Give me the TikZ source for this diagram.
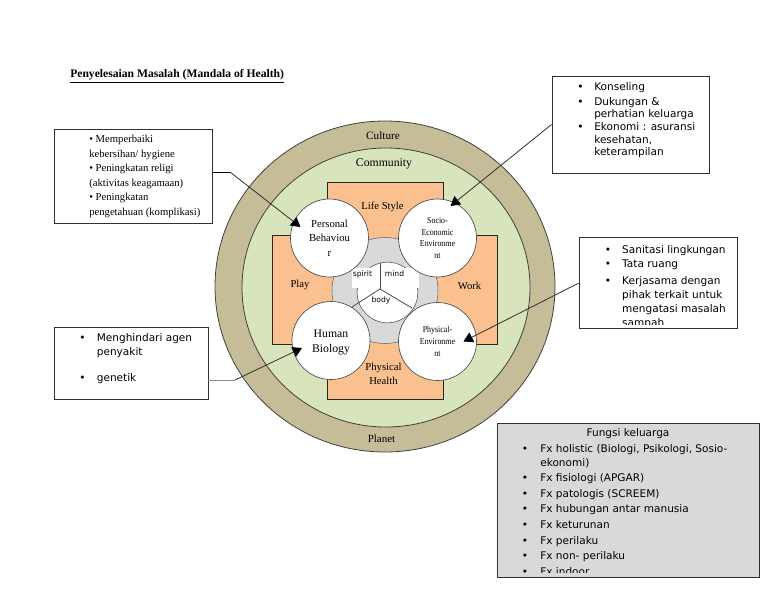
\documentclass[tikz,border=0pt]{standalone}
\usepackage{fontspec}
\setmainfont{Liberation Serif}
\newfontfamily\dejavu{DejaVu Sans}
\newfontfamily\narrowserif[FakeStretch = 0.87]{Liberation Serif}
\usetikzlibrary{arrows.meta, shapes.geometric}
\definecolor{culturetan}{HTML}{C4BD97}
\definecolor{communitygreen}{HTML}{D7E4BC}
\definecolor{crossorange}{HTML}{FAC08F}
\definecolor{coregray}{HTML}{D9D9D9}
\definecolor{linedark}{HTML}{303030}
\newcommand{\blt}{\textbullet}
\newenvironment{bullist}[1]{\begin{tabular}{@{}p{#1}@{}l@{}}}{\end{tabular}}

\begin{document}
\begin{tikzpicture}[x = 0.75pt, y = -0.75pt,
    ring/.style = {ellipse, draw = black!75, inner sep = 0pt, line width = 0.6pt},
    petal/.style = {circle, draw = black!70, fill = white, minimum size = 58.5pt, inner sep = 0pt, align = center, line width = 0.5pt},
    arm/.style = {rectangle, draw = black!85, fill = crossorange, inner sep = 0pt, line width = 0.6pt},
    notebox/.style = {rectangle, draw = linedark, fill = white, inner sep = 0pt, line width = 0.7pt},
    serifsmall/.style = {font = \fontsize{8}{10.5}\selectfont, inner sep = 0pt, align = center},
    saystext/.style = {font = \dejavu\fontsize{7.9}{10.5}\selectfont, inner sep = 0pt, anchor = north west},
    coretext/.style = {font = \dejavu\fontsize{5.7}{7}\selectfont, text = black, inner sep = 0pt},
    pointer/.style = {draw = linedark, line width = 0.6pt, -{Triangle[length = 7pt, width = 8pt, color = black]}}]
  \useasboundingbox (0,0) rectangle (768,594);

  \node[ring, fill = culturetan, minimum width = 255pt, minimum height = 248.25pt] (culture) at (385,286.5) {};
  \node[ring, fill = communitygreen, minimum width = 216pt, minimum height = 209.25pt] (community) at (386,287.5) {};
  \node[arm, minimum width = 87pt, minimum height = 162.75pt] (vertarm) at (385,290.5) {};
  \node[arm, minimum width = 168.75pt, minimum height = 81.75pt] (horizarm) at (384.5,289.5) {};
  \fill[crossorange] (328,183) rectangle (442,398);
  \node[circle, draw = black!60, fill = coregray, minimum size = 79.5pt, inner sep = 0pt] (core) at (385,290.5) {};
  \node[circle, draw = black!70, fill = white, minimum size = 45.5pt, inner sep = 0pt] (self) at (387.5,292.5) {};
  \fill[white] (352,268) rectangle (419,288);
  \coordinate (hub) at (380,289);
  \draw[draw = black!70, line width = 0.6pt] (hub) -- (380,263);
  \draw[draw = black!70, line width = 0.6pt] (hub) -- (352,307);
  \draw[draw = black!70, line width = 0.6pt] (hub) -- (412,308);
  \node[coretext] (spirit) at (362.5,274) {spirit};
  \node[coretext] (mind) at (394.5,274) {mind};
  \node[coretext] (body) at (381,300) {body};

  \node[petal, font = \fontsize{8}{10.9}\selectfont] (personal) at (329.5,238) {Personal\\Behaviou\\r};
  \node[petal, font = \narrowserif\fontsize{6.8}{8.8}\selectfont] (socio) at (437.5,238) {Socio-\\Economic\\Environme\\nt};
  \node[petal, font = \fontsize{8.8}{11.3}\selectfont] (human) at (331,340.5) {\rule{0pt}{9pt}Human\\Biology};
  \node[petal, font = \narrowserif\fontsize{6.8}{8.8}\selectfont] (physical) at (437.5,341.5) {Physical-\\Environme\\nt};

  \node[serifsmall, font = \fontsize{8.4}{10}\selectfont] (culturelabel) at (383,136) {Culture};
  \node[serifsmall, font = \fontsize{8.8}{10}\selectfont] (communitylabel) at (384,164) {Community};
  \node[serifsmall] (lifestyle) at (382.5,207) {Life Style};
  \node[serifsmall] (play) at (300,285) {Play};
  \node[serifsmall] (work) at (469.5,286) {Work};
  \node[serifsmall] (health) at (383.5,374) {Physical\\Health};
  \node[serifsmall, font = \fontsize{8.2}{10}\selectfont] (planet) at (381.5,439) {Planet};

  \node[inner sep = 0pt, anchor = west, font = \bfseries\fontsize{8.72}{10}\selectfont] (title) at (70,76) {\underline{Penyelesaian Masalah (Mandala of Health)}};

  \node[notebox, minimum width = 118.5pt, minimum height = 70.5pt] (perilaku) at (133,176) {};
  \node[serifsmall, anchor = west, align = left, font = \fontsize{8}{10.95}\selectfont] (perilakutext) at (89,176.5)
    {\blt\ Memperbaiki\\kebersihan/ hygiene\\\blt\ Peningkatan religi\\(aktivitas keagamaan)\\\blt\ Peningkatan\\pengetahuan (komplikasi)};

  \node[notebox, minimum width = 117.75pt, minimum height = 72.75pt] (sosial) at (630.5,124.5) {};
  \node[saystext, font = \dejavu\fontsize{7.9}{9.3}\selectfont] (sosialtext) at (577,81.5) {\begin{bullist}{12.75pt}
      \blt & Konseling\\[1.7pt]
      \blt & Dukungan \&\\
      & perhatian keluarga\\[0.7pt]
      \blt & Ekonomi : asuransi\\
      & kesehatan,\\
      & keterampilan
    \end{bullist}};

  \node[notebox, minimum width = 118.5pt, minimum height = 68.25pt] (lingkungan) at (658,282.5) {};
  \begin{scope}
    \clip (579,238) rectangle (737,324.5);
    \node[saystext] (lingkungantext) at (604.5,243.5) {\begin{bullist}{13.1pt}
        \blt & Sanitasi lingkungan\\
        \blt & Tata ruang\\[2pt]
        \blt & Kerjasama dengan\\
        & pihak terkait untuk\\
        & mengatasi masalah\\
        & sampah
      \end{bullist}};
  \end{scope}

  \node[notebox, minimum width = 115.5pt, minimum height = 54pt] (biologi) at (131,363) {};
  \node[saystext] (biologitext) at (79,331) {\begin{bullist}{13.2pt}
      \blt & Menghindari agen\\
      & penyakit\\[9pt]
      \blt & genetik
    \end{bullist}};

  \node[notebox, fill = coregray, minimum width = 196.5pt, minimum height = 115.5pt] (fungsi) at (628,500) {};
  \begin{scope}
    \clip (497,424) rectangle (759,572.5);
    \node[saystext, anchor = north] (fungsititle) at (628,428) {Fungsi keluarga};
    \node[saystext] (fungsitext) at (521.5,442) {\begin{bullist}{13.9pt}
        \blt & Fx holistic (Biologi, Psikologi, Sosio-\\
        & ekonomi)\\[1.2pt]
        \blt & Fx fisiologi (APGAR)\\[1.2pt]
        \blt & Fx patologis (SCREEM)\\[1.2pt]
        \blt & Fx hubungan antar manusia\\[1.2pt]
        \blt & Fx keturunan\\[1.2pt]
        \blt & Fx perilaku\\[1.2pt]
        \blt & Fx non- perilaku\\[1.2pt]
        \blt & Fx indoor
      \end{bullist}};
  \end{scope}

  \coordinate (perilakubend) at (230,172);
  \coordinate (biologibend) at (235,380);
  \draw[draw = black, line width = 0.6pt] ([yshift = 3pt]perilaku.east) -- (perilakubend);
  \draw[pointer] (perilakubend) -- ([shift = {(-29,-11)}]personal.center);
  \draw[pointer] (sosial.west) -- ([shift = {(13,-32)}]socio.center);
  \draw[pointer] ([yshift = -0.5pt]lingkungan.west) -- ([shift = {(26,0)}]physical.center);
  \draw[draw = black!45, line width = 0.7pt] ([yshift = -12.75pt]biologi.east) -- (biologibend);
  \draw[pointer] (biologibend) -- ([shift = {(-29,7.5)}]human.center);
\end{tikzpicture}
\end{document}
